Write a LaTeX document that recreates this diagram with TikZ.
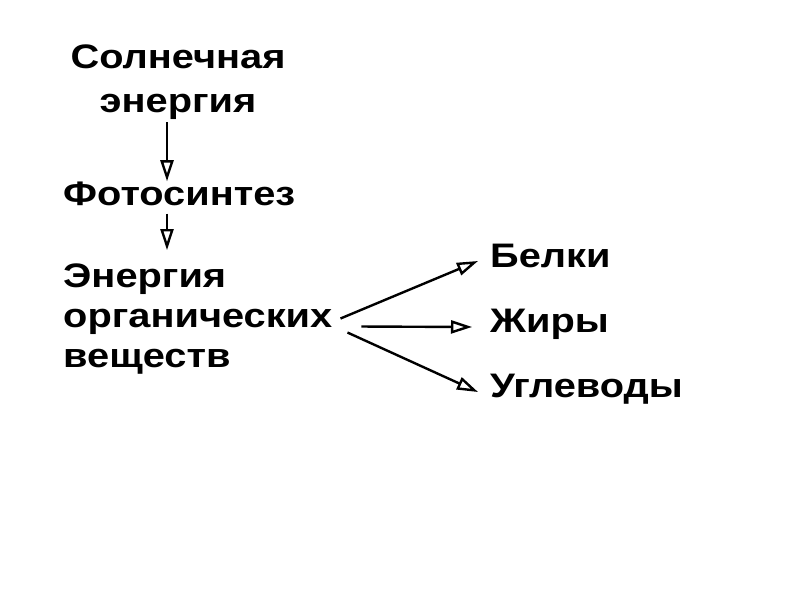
\documentclass[tikz,border=0pt]{standalone}
\usepackage{fontspec}
\setmainfont{Liberation Sans}[FakeStretch=1.17]
\usetikzlibrary{arrows.meta}
\tikzset{
  txt/.style={inner sep=0pt, font=\bfseries\fontsize{34}{40}\selectfont},
  flow/.style={-{Triangle[open,length=21pt,width=13pt]}, line width=2.4pt}
}
\begin{document}
\begin{tikzpicture}[x=1pt,y=-1pt]
      \useasboundingbox (0,0) rectangle (800,600);
      \draw
        (178,112) node[txt, anchor=base, align=center, font=\bfseries\fontsize{34}{44}\selectfont] (sun){Солнечная\\энергия}
        (63,205) node[txt, anchor=base west] (photo){Фотосинтез}
        (63,367) node[txt, anchor=base west, align=left] (energy){Энергия\\органических\\веществ}
        (490,267) node[txt, anchor=base west] (proteins){Белки}
        (490,332) node[txt, anchor=base west] (fats){Жиры}
        (490,397) node[txt, anchor=base west] (carbs){Углеводы};
      \begin{scope}[flow]
        \draw ([xshift=-11pt,yshift=-3pt]sun.south) to ([xshift=-11pt]sun.south |- photo.north);
        \draw ([xshift=104pt,yshift=-8pt]photo.south west) to ([xshift=104pt,yshift=13pt]photo.south west |- energy.north);
        \draw ([xshift=8pt]energy.east) to ([xshift=-12pt,yshift=6pt]proteins.base west);
        \draw ([xshift=29pt,yshift=-8pt]energy.east) to ([xshift=-18pt,yshift=5pt]fats.base west);
        \draw ([xshift=15pt,yshift=-14pt]energy.east) to ([xshift=-12pt,yshift=5pt]carbs.base west);
      \end{scope}
    \end{tikzpicture}
\end{document}
